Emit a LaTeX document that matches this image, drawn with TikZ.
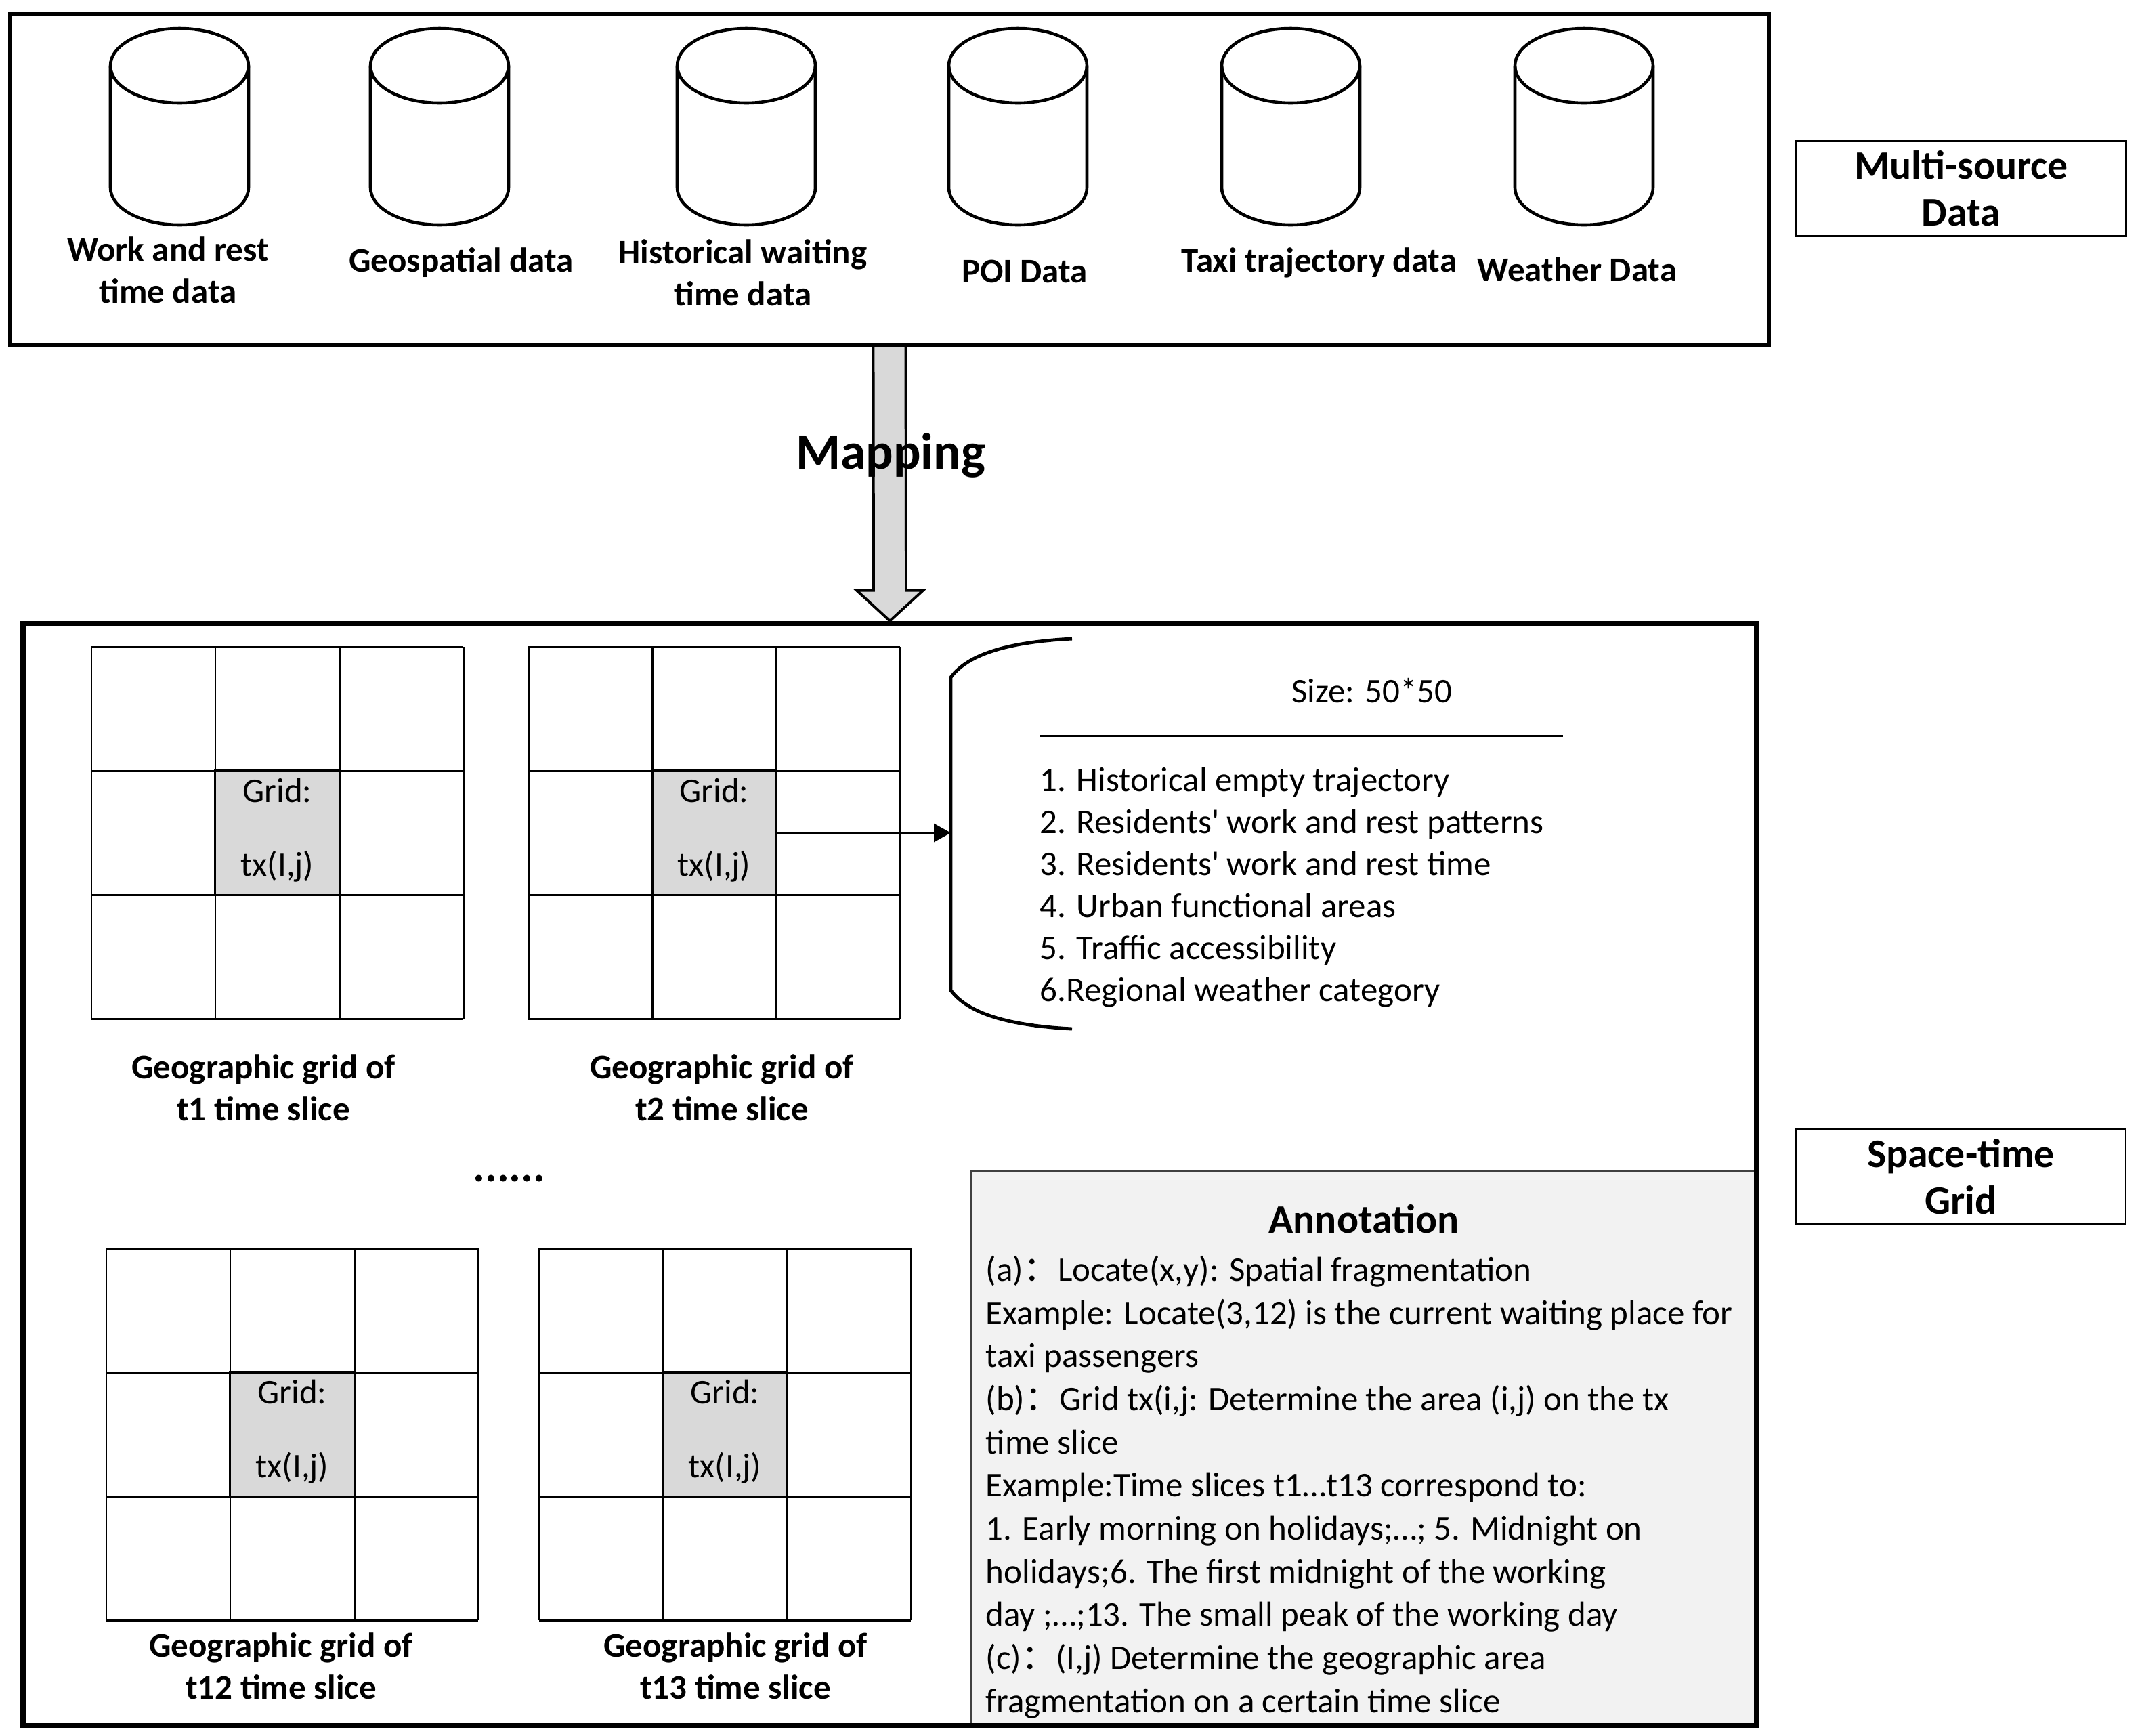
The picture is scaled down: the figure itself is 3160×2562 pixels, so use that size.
\documentclass[tikz,border=0pt]{standalone}
\usepackage{fontspec}
\setmainfont{Carlito}
\newfontfamily\cjkfont{Noto Sans CJK SC}
\usetikzlibrary{arrows.meta,calc}

\definecolor{cellgray}{HTML}{D9D9D9}
\definecolor{notegray}{HTML}{F2F2F2}

\newcommand{\txtsize}{\fontsize{14.5}{17.6}\selectfont}
\newcommand{\fwcolon}{{\cjkfont ：}}

\tikzset{
  srcframe/.style={draw, line width=1.6pt, minimum width=25.95cm, minimum height=4.9cm, inner sep=0pt},
  gridframe/.style={draw, line width=2.2pt, minimum width=25.58cm, minimum height=16.26cm, inner sep=0pt},
  cyl/.style={line width=1.3pt},
  dslabel/.style={font=\bfseries\txtsize, align=center, anchor=base},
  sidelabel/.style={draw, line width=0.7pt, minimum width=4.87cm, minimum height=1.4cm, align=center,
    font=\bfseries\fontsize{17}{19.6}\selectfont},
  cellline/.style={line width=0.85pt},
  midcell/.style={draw, fill=cellgray, line width=0.85pt, minimum size=1.83cm, inner sep=0pt},
  celltxt/.style={font=\txtsize, anchor=base},
  gridlabel/.style={font=\bfseries\txtsize, align=center, anchor=base},
  maparrow/.style={draw, fill=cellgray, line width=1.1pt, line join=miter},
  brace/.style={line width=1.4pt},
  featarrow/.style={line width=0.85pt, -{Triangle[length=0.25cm,width=0.27cm]}},
  notebox/.style={draw=black!75, fill=notegray, line width=0.8pt, minimum width=11.58cm, minimum height=8.18cm, inner sep=0pt}
}

\begin{document}
\begin{tikzpicture}[x=0.01cm, y=-0.01cm]
  \useasboundingbox (0,0) rectangle (3160,2562);

  % data sources
  \node[srcframe] (srcbox) at (1313.5,265) {};
  \foreach \cx in {265,649,1102,1503,1906,2339} {
    \draw[cyl] (\cx,97) ellipse [x radius=102, y radius=55];
    \draw[cyl] (\cx-102,97) -- (\cx-102,277) arc[start angle=180, end angle=0, x radius=102, y radius=55] -- (\cx+102,97);
  }
  % multi-line nodes sit on the baseline of their last line
  \node[dslabel] (dsWork) at (248,447) {Work and rest\\time data};
  \node[dslabel] (dsGeo) at (681,401) {Geospatial data};
  \node[dslabel] (dsWait) at (1097,451) {Historical waiting\\time data};
  \node[dslabel] (dsPoi) at (1513,417) {POI Data};
  \node[dslabel] (dsTaxi) at (1948,401) {Taxi trajectory data};
  \node[dslabel] (dsWeather) at (2329,415) {Weather Data};

  \node[sidelabel] (msData) at (2896,278.5) {Multi-source\\Data};
  \node[sidelabel] (stGrid) at (2895.5,1737.5) {Space-time\\Grid};

  % space-time grid
  \node[notebox] (notes) at (2014,2138) {};
  \node[gridframe] (stbox) at (1314,1734) {};

  \draw[maparrow] ($(srcbox.south)+(-24,0)$) -- ($(stbox.north)+(-24,-45)$) -- ($(stbox.north)+(-49,-45)$)
    -- (stbox.north) -- ($(stbox.north)+(49,-45)$) -- ($(stbox.north)+(24,-45)$) -- ($(srcbox.south)+(24,0)$);
  \node[font=\bfseries\fontsize{21.5}{24}\selectfont, anchor=base] (mapLbl) at (1315,692) {Mapping};

  \foreach \gx/\gy/\nm in {135/955/A,780/955/B,157/1843/C,796/1843/D} {
    \node[midcell] (cell\nm) at (\gx+274.5,\gy+274.5) {};
    \foreach \k in {0,...,3} {
      \draw[cellline] (\gx+\k*183,\gy) -- (\gx+\k*183,\gy+549);
      \draw[cellline] (\gx,\gy+\k*183) -- (\gx+549,\gy+\k*183);
    }
    \node[celltxt] (grid\nm) at (\gx+274.5,\gy+229) {Grid:};
    \node[celltxt] (tx\nm) at (\gx+274.5,\gy+338) {tx(I,j)};
  }
  \node[gridlabel] (lblA) at (389,1654) {Geographic grid of\\t1 time slice};
  \node[gridlabel] (lblB) at (1066,1654) {Geographic grid of\\t2 time slice};
  \node[gridlabel] (lblC) at (415,2508) {Geographic grid of\\t12 time slice};
  \node[gridlabel] (lblD) at (1086,2508) {Geographic grid of\\t13 time slice};
  \node[font=\bfseries\fontsize{19}{20}\selectfont, anchor=base] (dots) at (752,1744) {......};

  % features of one cell
  \draw[brace] (1583,943) .. controls (1490,948) and (1430,965) .. (1404,1000) -- (1404,1462)
    .. controls (1430,1497) and (1490,1514) .. (1583,1519);
  \coordinate (brk) at (1404,1229.5);
  \draw[featarrow] (cellB.east) -- (brk);
  \node[font=\txtsize, anchor=base] (size) at (2026,1037) {Size: 50*50};
  \draw[line width=0.85pt] (1535,1086) -- (2308,1086);
  \node[font=\txtsize, anchor=base west, align=left, inner sep=0pt] (feats) at (1535,1478)
    {1. Historical empty trajectory\\2. Residents\textquotesingle{} work and rest patterns\\3. Residents\textquotesingle{} work and rest time\\
     4. Urban functional areas\\5. Traffic accessibility\\6.Regional weather category};

  % annotation
  \node[font=\bfseries\fontsize{17}{20}\selectfont, anchor=base] (noteTitle) at (2014,1820) {Annotation};
  \node[font=\fontsize{14.5}{18.1}\selectfont, anchor=base west, align=left, inner sep=0pt] (noteText) at (1455,2528)
    {(a)\fwcolon Locate(x,y): Spatial fragmentation\\
     Example: Locate(3,12) is the current waiting place for\\
     taxi passengers\\
     (b)\fwcolon Grid tx(i,j: Determine the area (i,j) on the tx\\
     time slice\\
     Example:Time slices t1…t13 correspond to:\\
     1. Early morning on holidays;…; 5. Midnight on\\
     holidays;6. The first midnight of the working\\
     day ;…;13. The small peak of the working day\\
     (c)\fwcolon (I,j) Determine the geographic area\\
     fragmentation on a certain time slice};
\end{tikzpicture}
\end{document}
